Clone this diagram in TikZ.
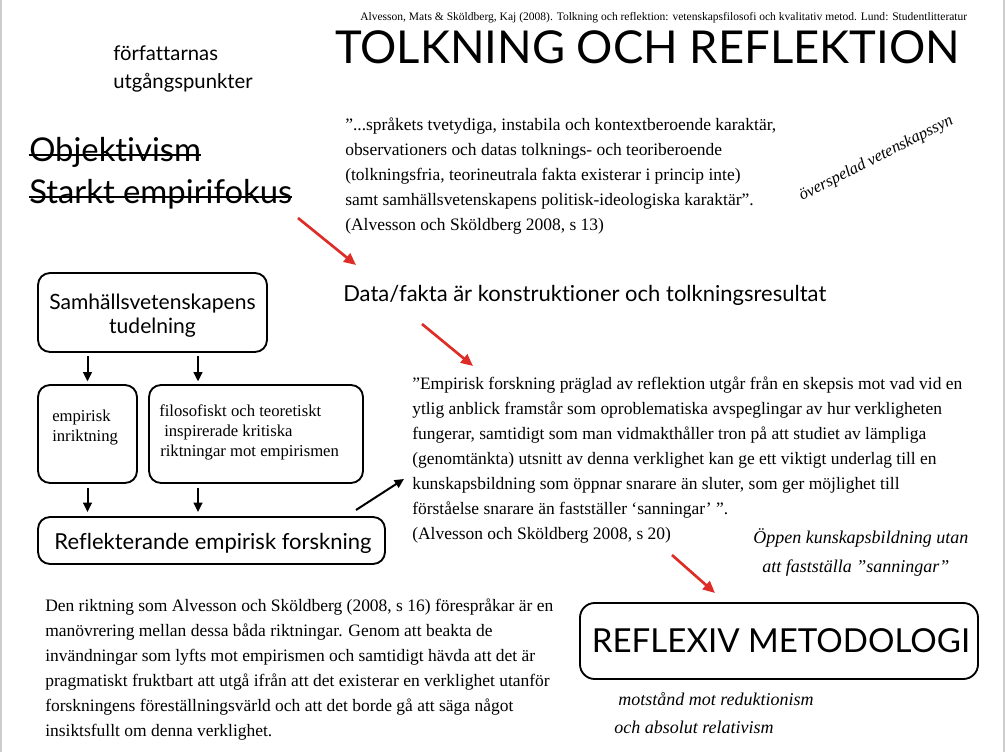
\documentclass[tikz,border=0pt]{standalone}
\usepackage{fontspec}
\setmainfont{Liberation Serif}
\newfontfamily\gill{Lato}[Ligatures={NoCommon}]
\usetikzlibrary{arrows.meta}
\definecolor{arrowred}{RGB}{222,45,38}
\definecolor{edgegray}{RGB}{205,205,205}
\begin{document}
\begin{tikzpicture}[x=0.75pt,y=-0.75pt,
  box/.style={draw, line width=1.4pt, rounded corners=9pt, inner sep=0pt},
  redarrow/.style={draw=arrowred, line width=2pt, -{Triangle[length=9pt,width=8pt]}},
  blkarrow/.style={line width=1.5pt, -{Triangle[length=7pt,width=6.5pt]}},
  txt/.style={inner sep=0pt, anchor=base west},
  body/.style={txt, font=\fontsize{13.1}{15}\selectfont},
  boxserif/.style={txt, font=\fontsize{12.5}{14}\selectfont},
  sanslbl/.style={inner sep=0pt, font=\gill\fontsize{16.5}{18}\selectfont},
  hand/.style={txt, font=\itshape\fontsize{13.5}{16}\selectfont},
  strike/.style={line width=1.1pt}]
\useasboundingbox (0,0) rectangle (1008,752);
\fill[white] (0,0) rectangle (1008,752);
\draw[edgegray, line width=1pt] (1,0) -- (1,752);
\draw[edgegray, line width=1pt] (1004,0) -- (1004,752);

% reference line
\node[txt, font=\fontsize{8.65}{10}\selectfont] (ref) at (360,21)
  {Alvesson, Mats \& Sköldberg, Kaj (2008). Tolkning och reflektion: vetenskapsfilosofi och kvalitativ metod. Lund: Studentlitteratur};

% title
\node[txt, font=\gill\fontsize{34}{38}\selectfont] (title) at (335,64) {TOLKNING OCH REFLEKTION};

% authors' starting points
\node[txt, font=\gill\fontsize{15.2}{18}\selectfont] (fa1) at (113,61) {författarnas};
\node[txt, font=\gill\fontsize{15.2}{18}\selectfont] (fa2) at (113,89) {utgångspunkter};

\node[txt, font=\gill\fontsize{24.6}{27}\selectfont] (obj) at (29,162) {Objektivism};
\node[txt, font=\gill\fontsize{24.6}{27}\selectfont] (emp) at (29,204) {Starkt empirifokus};
\draw[strike] ([yshift=5.3pt]obj.base west) -- ([yshift=5.3pt]obj.base east);
\draw[strike] ([yshift=5.3pt]emp.base west) -- ([yshift=5.3pt]emp.base east);

% quote 1
\foreach \l [count=\i] in {%
  {”.{}.{}.språkets tvetydiga, instabila och kontextberoende karaktär,},
  {observationers och datas tolknings- och teoriberoende},
  {(tolkningsfria, teorineutrala fakta existerar i princip inte)},
  {samt samhällsvetenskapens politisk-ideologiska karaktär”.},
  {(Alvesson och Sköldberg 2008, s 13)}}
  \node[body] (qa-\i) at (345,{131+25*(\i-1)}) {\l};

\node[hand, font=\itshape\fontsize{12.4}{14}\selectfont, rotate=27] (overs) at (802,201) {överspelad vetenskapssyn};

% data/fakta
\node[txt, font=\gill\fontsize{16.5}{18}\selectfont] (data) at (343,302) {Data/fakta är konstruktioner och tolkningsresultat};

% red arrows
\coordinate (r1s) at (298,218); \coordinate (r1e) at (356,265);
\coordinate (r2s) at (422,324); \coordinate (r2e) at (473,366);
\coordinate (r3s) at (672,555); \coordinate (r3e) at (715,593);
\draw[redarrow] (r1s) -- (r1e);
\draw[redarrow] (r2s) -- (r2e);
\draw[redarrow] (r3s) -- (r3e);

% boxes
\node[box, minimum width=171.75pt, minimum height=59.25pt] (b1) at (152.5,312.5) {};
\node[sanslbl, anchor=base, font=\gill\fontsize{15.8}{18}\selectfont] (b1t1) at (152.5,310) {Samhällsvetenskapens};
\node[sanslbl, anchor=base, font=\gill\fontsize{15.8}{18}\selectfont] (b1t2) at (152.5,334) {tudelning};

\node[box, minimum width=74.25pt, minimum height=73.5pt] (b2) at (87.5,434) {};
\node[boxserif] (b2t1) at (52,422) {empirisk};
\node[boxserif] (b2t2) at (52,442) {inriktning};

\node[box, minimum width=160.5pt, minimum height=73.5pt] (b3) at (256,434) {};
\node[boxserif] (b3t1) at (159,417) {filosofiskt och teoretiskt};
\node[boxserif] (b3t2) at (164,437) {inspirerade kritiska};
\node[boxserif] (b3t3) at (160,457) {riktningar mot empirismen};

\node[box, minimum width=260.25pt, minimum height=35.25pt] (b4) at (211.5,540.5) {};
\node[sanslbl, anchor=base] (b4t) at (213,550) {Reflekterande empirisk forskning};

\coordinate (cx) at (198,0);
\draw[blkarrow, shorten <=2.2pt, shorten >=2pt] (b1.south -| b2.north) -- (b2.north);
\draw[blkarrow, shorten <=2.2pt, shorten >=2pt] (b1.south -| cx) -- (b3.north -| cx);
\draw[blkarrow, shorten <=3pt, shorten >=3pt] (b2.south) -- (b4.north -| b2.south);
\draw[blkarrow, shorten <=3pt, shorten >=3pt] (b3.south -| cx) -- (b4.north -| cx);

\coordinate (ba1) at (356,510); \coordinate (ba2) at (404,479);
\draw[blkarrow] (ba1) -- (ba2);

% quote 2
\foreach \l [count=\i] in {%
  {”Empirisk forskning präglad av reflektion utgår från en skepsis mot vad vid en},
  {ytlig anblick framstår som oproblematiska avspeglingar av hur verkligheten},
  {fungerar, samtidigt som man vidmakthåller tron på att studiet av lämpliga},
  {(genomtänkta) utsnitt av denna verklighet kan ge ett viktigt underlag till en},
  {kunskapsbildning som öppnar snarare än sluter, som ger möjlighet till},
  {förståelse snarare än fastställer ‘sanningar’ ”.},
  {(Alvesson och Sköldberg 2008, s 20)}}
  \node[body] (qb-\i) at (412,{390+25*(\i-1)}) {\l};

\node[hand] (op1) at (753,543) {Öppen kunskapsbildning utan};
\node[hand] (op2) at (762,572) {att fastställa ”sanningar”};

% bottom paragraph
\foreach \l [count=\i] in {%
  {Den riktning som Alvesson och Sköldberg (2008, s 16) förespråkar är en},
  {manövrering mellan dessa båda riktningar. Genom att beakta de},
  {invändningar som lyfts mot empirismen och samtidigt hävda att det är},
  {pragmatiskt fruktbart att utgå ifrån att det existerar en verklighet utanför},
  {forskningens föreställningsvärld och att det borde gå att säga något},
  {insiktsfullt om denna verklighet.}}
  \node[body] (pc-\i) at (45,{611+25*(\i-1)}) {\l};

% reflexiv metodologi
\node[box, rounded corners=11pt, minimum width=298.5pt, minimum height=57pt] (b5) at (779,641) {};
\node[inner sep=0pt, anchor=base, font=\gill\fontsize{24.8}{28}\selectfont] (b5t) at (781,652) {REFLEXIV METODOLOGI};

\node[hand] (mo1) at (618,705) {motstånd mot reduktionism};
\node[hand] (mo2) at (614,733) {och absolut relativism};
\end{tikzpicture}
\end{document}
